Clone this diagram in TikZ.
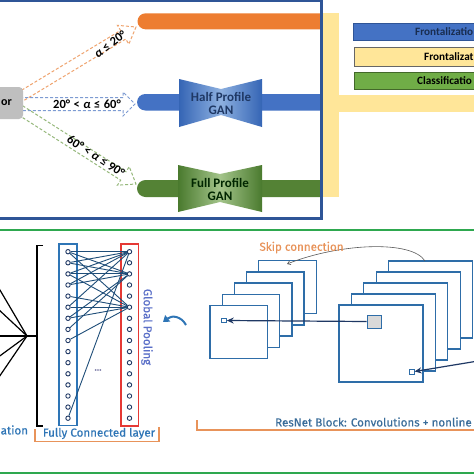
\documentclass[tikz,border=0pt]{standalone}
\usepackage{fontspec}
\setmainfont{Carlito}
\newfontfamily\fira[FakeBold=0.4]{Fira Sans}
\usetikzlibrary{calc,arrows.meta}
\definecolor{frameblue}{HTML}{2F5597}
\definecolor{fgreen}{HTML}{2EA84F}
\definecolor{orng}{HTML}{ED7D31}
\definecolor{bblue}{HTML}{4472C4}
\definecolor{dgreen}{HTML}{548235}
\definecolor{ylw}{HTML}{FFE699}
\definecolor{lgreen}{HTML}{70AD47}
\definecolor{boxgray}{HTML}{BFBFBF}
\definecolor{dashor}{HTML}{EFA36E}
\definecolor{dashbl}{HTML}{7D9BD2}
\definecolor{dashgr}{HTML}{95B87A}
\definecolor{colblue}{HTML}{2E75B6}
\definecolor{colred}{HTML}{E53935}
\definecolor{navy}{HTML}{1F3864}
\definecolor{navytwo}{HTML}{1F4E79}
\definecolor{gpool}{HTML}{5A6FC8}
\definecolor{skipor}{HTML}{E8935A}
\definecolor{resblue}{HTML}{3A6D9A}
\definecolor{sqblue}{HTML}{2E6DA8}
\definecolor{hganA}{HTML}{3565B5}
\definecolor{hganB}{HTML}{8DB0E0}
\definecolor{fganA}{HTML}{4A7A2E}
\definecolor{fganB}{HTML}{A3C48A}
\definecolor{markgray}{HTML}{D9D9D9}
\tikzset{
  dasharr/.style={line width=1pt, dash pattern=on 3pt off 2pt},
  angl/.style={font=\bfseries\fontsize{12.5}{14}\selectfont, inner sep=0pt, text=black},
  ganlbl/.style={font=\bfseries\fontsize{13}{13}\selectfont, align=center, inner sep=0pt},
  legtxt/.style={font=\bfseries\fontsize{11.2}{13}\selectfont, anchor=west, inner sep=0pt},
  nndot/.style={circle, draw=navy, fill=white, line width=0.9pt, inner sep=0pt, minimum size=4.4pt},
  fcline/.style={navytwo, line width=0.9pt},
  sqr/.style={draw=sqblue, fill=white, line width=1.3pt},
  btxt/.style={font=\fira\fontsize{11.6}{13}\selectfont, inner sep=0pt},
  orbr/.style={draw=skipor, line width=1.5pt}
}
\begin{document}
\begin{tikzpicture}[x=1pt,y=-1pt]
\useasboundingbox (0,0) rectangle (474,474);
\begin{scope}
\clip (0,0) rectangle (474,474);
\fill[white] (0,0) rectangle (474,474);

% ---------- top panel ----------
\fill[ylw] (323,13.3) rectangle (339.3,196.7);
\fill[ylw] (339.3,95) rectangle (480,111.7);

\fill[orng] (321,13.3) -- (145.5,13.3) arc[start angle=270,end angle=90,radius=8] -- (321,29.3) -- cycle;
\fill[bblue] (321,94) -- (145.3,94) arc[start angle=270,end angle=90,radius=8.25] -- (321,110.5) -- cycle;
\fill[dgreen] (321,180) -- (145.5,180) arc[start angle=270,end angle=90,radius=8.5] -- (321,197) -- cycle;

\draw[frameblue, line width=2.3pt] (-5,1) -- (321.5,1) -- (321.5,218.5) -- (-5,218.5);

% GAN shapes
\shade[left color=hganA, right color=hganA, middle color=hganB]
  (179,79) -- (221,89) -- (262,79) -- (262,127) -- (221,115) -- (179,127) -- cycle;
\node[ganlbl, text=navy] (hgan) at (221,103.5) {Half Profile\\GAN};
\shade[left color=fganA, right color=fganA, middle color=fganB]
  (178,165) -- (220,174) -- (262,165) -- (262,212) -- (220,202) -- (178,212) -- cycle;
\node[ganlbl, text=black!85!green] (fgan) at (220,189) {Full Profile\\GAN};

% dashed block arrows
\coordinate (oT) at (20,97); \coordinate (oP) at (136,27);
\coordinate (oB) at ($(oP)!15pt!(oT)$);
\draw[dasharr, dashor] ($(oT)!5pt!90:(oP)$) -- ($(oB)!5pt!90:(oP)$) -- ($(oB)!11pt!90:(oP)$) -- (oP) -- ($(oB)!11pt!-90:(oP)$) -- ($(oB)!5pt!-90:(oP)$) -- ($(oT)!5pt!-90:(oP)$);

\coordinate (bT) at (20,104); \coordinate (bP) at (135,104);
\coordinate (bB) at ($(bP)!12pt!(bT)$);
\draw[dasharr, dashbl] ($(bT)!6.5pt!90:(bP)$) -- ($(bB)!6.5pt!90:(bP)$) -- ($(bB)!12pt!90:(bP)$) -- (bP) -- ($(bB)!12pt!-90:(bP)$) -- ($(bB)!6.5pt!-90:(bP)$) -- ($(bT)!6.5pt!-90:(bP)$);

\coordinate (gT) at (20,110); \coordinate (gP) at (136,184);
\coordinate (gB) at ($(gP)!15pt!(gT)$);
\draw[dasharr, dashgr] ($(gT)!5pt!90:(gP)$) -- ($(gB)!5pt!90:(gP)$) -- ($(gB)!11pt!90:(gP)$) -- (gP) -- ($(gB)!11pt!-90:(gP)$) -- ($(gB)!5pt!-90:(gP)$) -- ($(gT)!5pt!-90:(gP)$);

\node[fill=boxgray, rounded corners=4pt, minimum width=33pt, minimum height=32pt, inner sep=0pt,
      font=\bfseries\fontsize{12}{13}\selectfont] (est) at (6.5,103) {or};

\node[angl, rotate=36] (lab1) at (110,44) {\textit{α}\kern3pt≤\kern3pt20°};
\node[angl] (lab2) at (87,104) {20°\kern3.5pt<\kern3.5pt\textit{α}\kern3.5pt≤\kern3.5pt60°};
\node[angl, rotate=-33] (lab3) at (96,156) {60°\kern3pt<\kern3pt\textit{α}\kern3pt≤\kern3pt90°};

% legend
\draw[fill=bblue, draw=frameblue, line width=0.8pt] (353,23.3) rectangle (480,40.7);
\draw[fill=ylw, draw=black!60, line width=0.8pt] (354,47.3) rectangle (480,66);
\draw[fill=lgreen, draw=dgreen!80!black, line width=0.8pt] (354,72.7) rectangle (480,89.3);
\node[legtxt, text=navy!80!black] (leg1) at (415,32) {Frontalizatio};
\node[legtxt, text=black] (leg2) at (424,56.7) {Frontalizat};
\node[legtxt, text=black] (leg3) at (417,81) {Classificatio};

% ---------- bottom panel ----------
\draw[fgreen, line width=2pt] (-5,230) -- (480,230);
\draw[fgreen, line width=2pt] (-5,472.7) -- (480,472.7);

% left fan
\coordinate (conv) at (27,336);
\coordinate (e1) at (-3,285); \coordinate (e2) at (-3,308);
\coordinate (e3) at (-3,336); \coordinate (e4) at (-3,358);
\coordinate (e5) at (-3,380);
\foreach \e in {e1,e2,e3,e4,e5} \draw[black, line width=1.2pt] (conv) -- (\e);
\coordinate (brm) at (37,336);
\draw[black, line width=1.2pt] (43,245.5) -- (37,245.5) -- (37,426) -- (43,426);
\draw[black, line width=1.2pt] (conv) -- (brm);

\node[btxt, anchor=west, text=colblue] (ation) at (0.5,430) {ation};

% columns
\draw[colblue, line width=1.3pt] (59,244) rectangle (77,425.5);
\draw[colred, line width=1.3pt] (121,244) rectangle (138.3,426);
\foreach \i in {1,...,16} {
  \node[nndot] (L\i) at (68,{251.7+(\i-1)*11.1}) {};
  \node[nndot] (R\i) at (129.5,{251.7+(\i-1)*11.1}) {};
}
\foreach \a/\b in {1/1,1/3,1/6,2/1,2/3,3/1,3/3,3/6,4/1,4/3,5/6,6/6,6/1,7/6,7/3,8/3,9/6,16/1}
  \draw[fcline] (L\a) -- (R\b);

\node[font=\fira\fontsize{10}{10}\selectfont, text=gray!80!blue, inner sep=0pt] (dots) at (98,370) {...};
\node[btxt, text=gpool, rotate=-90] (gp) at (147,327) {Global Pooling};
\node[btxt, text=colblue] (fcl) at (99,433.5) {Fully Connected layer};
\draw[orbr] (35,429) -- (35,441.7) -- (159,441.7) -- (159,427);

% curved arrow
\coordinate (ca1) at (186,325); \coordinate (ca2) at (163,322);
\draw[colblue, line width=2pt, -{Triangle[length=6pt,width=8pt]}] (ca1) .. controls (181,316) and (172,315) .. (ca2);

% ResNet stack A
\foreach \k in {4,3,2,1,0}
  \draw[sqr] ({210+12.2*\k},{305.5-11.2*\k}) rectangle ++(57.5,53);
% ResNet stack B
\foreach \k in {4,3,2,1,0}
  \draw[sqr] ({339+12.4*\k},{305-11*\k}) rectangle ++(84,77);

\node[draw=sqblue, fill=white, line width=1pt, minimum width=4.5pt, minimum height=4.5pt, inner sep=0pt] (ma) at (224,320.5) {};
\node[draw=sqblue, fill=markgray, line width=1pt, minimum width=14pt, minimum height=13pt, inner sep=0pt] (mg) at (374,321.5) {};
\node[draw=sqblue, fill=white, line width=1pt, minimum width=5pt, minimum height=5pt, inner sep=0pt] (mb) at (411.5,371.5) {};
\draw[navy, line width=1.2pt, -{Stealth[length=7pt,width=6pt]}] (mg.west) -- (ma.east);
\coordinate (rin) at (478,361);
\draw[navy, line width=1.2pt, -{Stealth[length=7pt,width=6pt]}] (rin) -- (mb.east);

% skip connection
\coordinate (sk1) at (425,261); \coordinate (sk2) at (287,264);
\draw[black!65, line width=0.6pt, -{Straight Barb[length=3pt,width=4pt]}] (sk1) .. controls (412,240) and (340,243) .. (sk2);
\node[btxt, text=skipor] (skip) at (301.5,247.5) {Skip connection};

\node[btxt, anchor=west, text=resblue] (res) at (275,422) {ResNet Block: Convolutions + nonline};
\draw[orbr] (197,420) -- (197,430) -- (480,430);
\end{scope}
\end{tikzpicture}
\end{document}
